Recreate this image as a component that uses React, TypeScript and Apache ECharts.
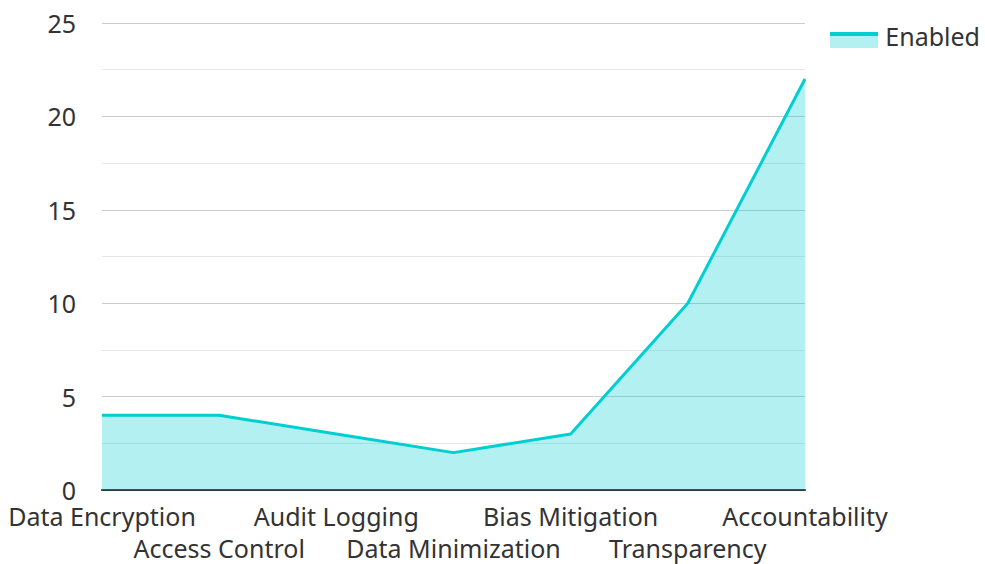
import React, { useEffect, useRef } from "react";
import * as echarts from "echarts";

const categories = [
  "Data Encryption",
  "Access Control",
  "Audit Logging",
  "Data Minimization",
  "Bias Mitigation",
  "Transparency",
  "Accountability",
];
const enabledValues = [4, 4, 3, 2, 3, 10, 22];
const seriesName = "Enabled";

export default function App() {
  const ref = useRef<HTMLDivElement>(null);
  useEffect(() => {
    if (!ref.current) return;
    const chart = echarts.init(ref.current, undefined, { renderer: "svg" });
    const font = "'Noto Sans', sans-serif";
    chart.setOption({
      animation: false,
      textStyle: { fontFamily: font },
      legend: {
        data: [{ name: seriesName, icon: "rect" }],
        right: 0,
        top: 18,
        itemWidth: 48,
        itemHeight: 16,
        itemGap: 10,
        itemStyle: { opacity: 0 },
        textStyle: { fontSize: 25, color: "#333", fontFamily: font },
      },
      graphic: [
        {
          type: "rect",
          left: 830,
          top: 36,
          shape: { width: 48, height: 12 },
          style: { fill: "rgba(0,206,209,0.3)" },
          z: 100,
        },
        {
          type: "rect",
          left: 830,
          top: 32,
          shape: { width: 48, height: 4 },
          style: { fill: "#00CED1" },
          z: 101,
        },
      ],
      grid: { left: 102, right: 180, top: 23, bottom: 74 },
      xAxis: {
        type: "category",
        data: categories,
        boundaryGap: false,
        axisLine: { lineStyle: { color: "#333", width: 2 } },
        axisTick: { show: false },
        axisLabel: {
          interval: 0,
          fontSize: 25,
          color: "#333",
          fontFamily: font,
          margin: 10,
          lineHeight: 32,
          formatter: (v: string, i: number) => (i % 2 === 1 ? "\n" + v : v),
        },
      },
      yAxis: {
        type: "value",
        min: 0,
        max: 25,
        interval: 5,
        axisLine: { show: false },
        axisTick: { show: false },
        axisLabel: { fontSize: 25, color: "#333", fontFamily: font, margin: 26 },
        splitLine: { lineStyle: { color: "#ccc", width: 1 } },
        minorTick: { show: false, splitNumber: 2 },
        minorSplitLine: { show: true, lineStyle: { color: "#e6e6e6", width: 1 } },
      },
      series: [
        {
          name: seriesName,
          type: "line",
          data: enabledValues,
          symbol: "none",
          lineStyle: { color: "#00CED1", width: 3 },
          itemStyle: { color: "#00CED1" },
          areaStyle: { color: "#00CED1", opacity: 0.3 },
        },
      ],
    });
    return () => chart.dispose();
  }, []);
  return <div ref={ref} style={{ width: 985, height: 564, position: "absolute", left: 0, top: 0 }} />;
}
